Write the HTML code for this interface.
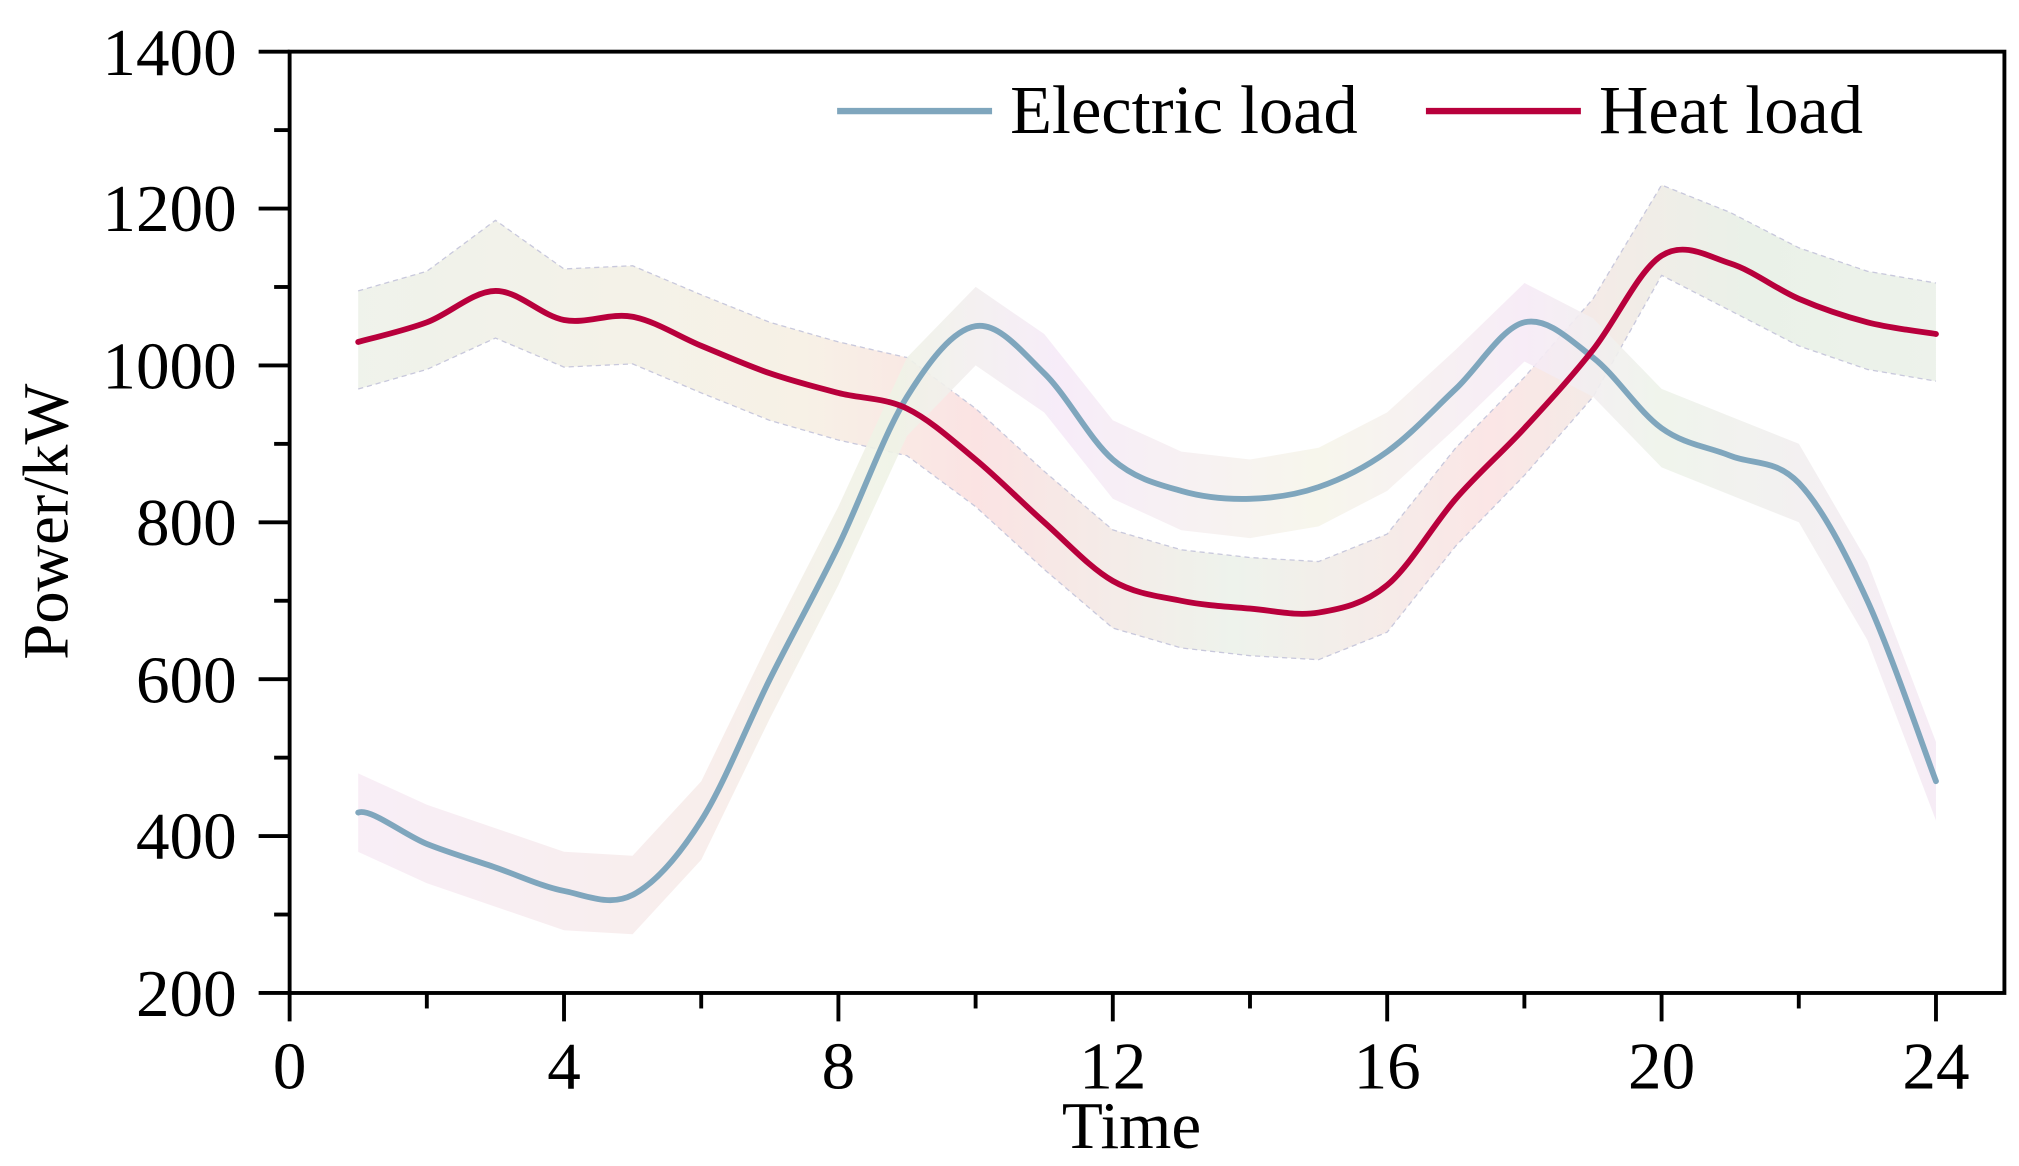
<!DOCTYPE html>
<html><head><meta charset="utf-8"><style>html,body{margin:0;padding:0;background:#fff}svg{display:block}</style></head>
<body>
<svg width="2019" height="1166" viewBox="0 0 1563 903" xmlns="http://www.w3.org/2000/svg" font-family="Liberation Serif, serif">
<defs>
<linearGradient id="gh" x1="224" x2="1552" y1="0" y2="0" gradientUnits="userSpaceOnUse">
<stop offset="0" stop-color="#eef3ec"/><stop offset="0.3" stop-color="#f7f1e6"/><stop offset="0.4" stop-color="#fbe3e3"/><stop offset="0.55" stop-color="#eef3ec"/><stop offset="0.7" stop-color="#fbe6e6"/><stop offset="0.85" stop-color="#eaf1e8"/><stop offset="1" stop-color="#eef3ec"/></linearGradient>
<linearGradient id="ge" x1="224" x2="1552" y1="0" y2="0" gradientUnits="userSpaceOnUse">
<stop offset="0" stop-color="#f8ecf8"/><stop offset="0.25" stop-color="#f7ece9"/><stop offset="0.35" stop-color="#eff3e6"/><stop offset="0.45" stop-color="#f6eaf8"/><stop offset="0.6" stop-color="#f6f5ea"/><stop offset="0.72" stop-color="#f6eaf6"/><stop offset="0.8" stop-color="#eef3ea"/><stop offset="1" stop-color="#f7e8f7"/></linearGradient>
</defs>
<polygon fill="url(#gh)" points="277.1,225.3 330.3,210.1 383.4,170.6 436.5,208.3 489.6,205.8 542.8,228.3 595.9,249.6 649.0,264.8 702.1,276.9 755.3,316.4 808.4,365.0 861.5,410.4 914.6,425.8 967.8,431.8 1020.9,434.9 1074.0,413.6 1127.1,346.8 1180.3,292.1 1233.4,231.4 1286.5,143.3 1339.6,164.5 1392.8,191.9 1445.9,210.1 1499.0,219.2 1499.0,295.2 1445.9,286.1 1392.8,267.9 1339.6,240.5 1286.5,213.2 1233.4,307.4 1180.3,368.1 1127.1,422.8 1074.0,489.6 1020.9,510.9 967.8,507.8 914.6,501.8 861.5,486.4 808.4,441.0 755.3,392.4 702.1,352.9 649.0,340.8 595.9,325.6 542.8,304.3 489.6,281.8 436.5,284.3 383.4,261.8 330.3,286.1 277.1,301.3"/>
<g fill="none" stroke="#c8c8dc" stroke-width="1" stroke-dasharray="4,3" stroke-linejoin="round">
<polyline points="277.1,225.3 330.3,210.1 383.4,170.6 436.5,208.3 489.6,205.8 542.8,228.3 595.9,249.6 649.0,264.8 702.1,276.9 755.3,316.4 808.4,365.0 861.5,410.4 914.6,425.8 967.8,431.8 1020.9,434.9 1074.0,413.6 1127.1,346.8 1180.3,292.1 1233.4,231.4 1286.5,143.3 1339.6,164.5 1392.8,191.9 1445.9,210.1 1499.0,219.2"/>
<polyline points="277.1,301.3 330.3,286.1 383.4,261.8 436.5,284.3 489.6,281.8 542.8,304.3 595.9,325.6 649.0,340.8 702.1,352.9 755.3,392.4 808.4,441.0 861.5,486.4 914.6,501.8 967.8,507.8 1020.9,510.9 1074.0,489.6 1127.1,422.8 1180.3,368.1 1233.4,307.4 1286.5,213.2 1339.6,240.5 1392.8,267.9 1445.9,286.1 1499.0,295.2"/>
</g>
<polygon fill="url(#ge)" opacity="0.9" points="277.1,598.9 330.3,623.2 383.4,641.4 436.5,659.6 489.6,662.7 542.8,605.0 595.9,495.6 649.0,392.3 702.1,276.9 755.3,222.2 808.4,258.7 861.5,325.5 914.6,349.8 967.8,355.9 1020.9,346.8 1074.0,319.4 1127.1,270.8 1180.3,219.2 1233.4,246.5 1286.5,301.2 1339.6,322.5 1392.8,343.7 1445.9,434.9 1499.0,574.6 1499.0,635.4 1445.9,495.7 1392.8,404.5 1339.6,383.3 1286.5,362.0 1233.4,307.3 1180.3,280.0 1127.1,331.6 1074.0,380.2 1020.9,407.6 967.8,416.7 914.6,410.6 861.5,386.3 808.4,319.5 755.3,283.0 702.1,337.7 649.0,453.1 595.9,556.4 542.8,665.8 489.6,723.5 436.5,720.4 383.4,702.2 330.3,684.0 277.1,659.7"/>
<path fill="none" stroke="#7fa6bd" stroke-width="4.5" stroke-linecap="round" d="M277.1,629.3 C286,625.3 312.6,646.5 330.3,653.6 S365.7,665.7 383.4,671.8 S418.8,686.4 436.5,690 S471.9,702.2 489.6,693.1 S525.1,663.3 542.8,635.4 S578.2,561.5 595.9,526 S631.3,459.2 649,422.7 S684.4,335.7 702.1,307.3 S737.6,255.6 755.3,252.6 S790.7,271.9 808.4,289.1 S843.8,340.7 861.5,355.9 S896.9,375.1 914.6,380.2 S950.1,386.8 967.8,386.3 S1003.2,383.3 1020.9,377.2 S1056.3,362.5 1074,349.8 S1109.4,317.9 1127.1,301.2 S1162.6,253.7 1180.3,249.6 S1215.7,263.2 1233.4,276.9 S1268.8,318.9 1286.5,331.6 S1321.9,345.8 1339.6,352.9 S1375.1,355.4 1392.8,374.1 S1428.2,426.8 1445.9,465.3 S1490.1,581.7 1499,605"/>
<path fill="none" stroke="#b8003c" stroke-width="4.5" stroke-linecap="round" d="M277.1,264.8 C286,262.3 312.6,256.2 330.3,249.6 S365.7,225.6 383.4,225.3 S418.8,244.5 436.5,247.8 S471.9,242 489.6,245.3 S525.1,260.5 542.8,267.8 S578.2,283 595.9,289.1 S631.3,299.7 649,304.3 S684.4,307.8 702.1,316.4 S737.6,341.2 755.3,355.9 S790.7,388.8 808.4,404.5 S843.8,439.8 861.5,449.9 S896.9,461.7 914.6,465.3 S950.1,469.8 967.8,471.3 S1003.2,477.4 1020.9,474.4 S1056.3,467.8 1074,453.1 S1109.4,406.6 1127.1,386.3 S1162.6,350.8 1180.3,331.6 S1215.7,293.2 1233.4,270.9 S1268.8,209.2 1286.5,198 S1321.9,198.4 1339.6,204 S1375.1,223.8 1392.8,231.4 S1428.2,245 1445.9,249.6 S1490.1,257.2 1499,258.7"/>
<rect x="224" y="40" width="1328" height="729" fill="none" stroke="#000" stroke-width="3"/>
<g stroke="#000" stroke-width="3">
<line x1="200" y1="40" x2="224" y2="40"/><line x1="212" y1="100.75" x2="224" y2="100.75"/>
<line x1="200" y1="161.5" x2="224" y2="161.5"/><line x1="212" y1="222.25" x2="224" y2="222.25"/>
<line x1="200" y1="283" x2="224" y2="283"/><line x1="212" y1="343.75" x2="224" y2="343.75"/>
<line x1="200" y1="404.5" x2="224" y2="404.5"/><line x1="212" y1="465.25" x2="224" y2="465.25"/>
<line x1="200" y1="526" x2="224" y2="526"/><line x1="212" y1="586.75" x2="224" y2="586.75"/>
<line x1="200" y1="647.5" x2="224" y2="647.5"/><line x1="212" y1="708.25" x2="224" y2="708.25"/>
<line x1="200" y1="769" x2="224" y2="769"/>
<line x1="224" y1="769" x2="224" y2="791"/><line x1="330.25" y1="769" x2="330.25" y2="781"/>
<line x1="436.5" y1="769" x2="436.5" y2="791"/><line x1="542.75" y1="769" x2="542.75" y2="781"/>
<line x1="649" y1="769" x2="649" y2="791"/><line x1="755.25" y1="769" x2="755.25" y2="781"/>
<line x1="861.5" y1="769" x2="861.5" y2="791"/><line x1="967.75" y1="769" x2="967.75" y2="781"/>
<line x1="1074" y1="769" x2="1074" y2="791"/><line x1="1180.25" y1="769" x2="1180.25" y2="781"/>
<line x1="1286.5" y1="769" x2="1286.5" y2="791"/><line x1="1392.75" y1="769" x2="1392.75" y2="781"/>
<line x1="1499" y1="769" x2="1499" y2="791"/>
</g>
<g font-size="52" text-anchor="end" fill="#000">
<text x="183" y="58">1400</text><text x="183" y="179">1200</text><text x="183" y="301">1000</text>
<text x="183" y="422">800</text><text x="183" y="544">600</text><text x="183" y="665">400</text><text x="183" y="787">200</text>
</g>
<g font-size="52" text-anchor="middle" fill="#000">
<text x="224" y="843">0</text><text x="436.5" y="843">4</text><text x="649" y="843">8</text><text x="861.5" y="843">12</text>
<text x="1074" y="843">16</text><text x="1286.5" y="843">20</text><text x="1499" y="843">24</text>
<text x="876" y="889">Time</text>
</g>
<text font-size="50" text-anchor="middle" transform="translate(52,404) rotate(-90)">Power/kW</text>
<line x1="648" y1="86" x2="768" y2="86" stroke="#7fa6bd" stroke-width="5"/>
<text x="782" y="103" font-size="53">Electric load</text>
<line x1="1104" y1="86" x2="1224" y2="86" stroke="#b8003c" stroke-width="5"/>
<text x="1238" y="103" font-size="53">Heat load</text>
</svg>
</body></html>
